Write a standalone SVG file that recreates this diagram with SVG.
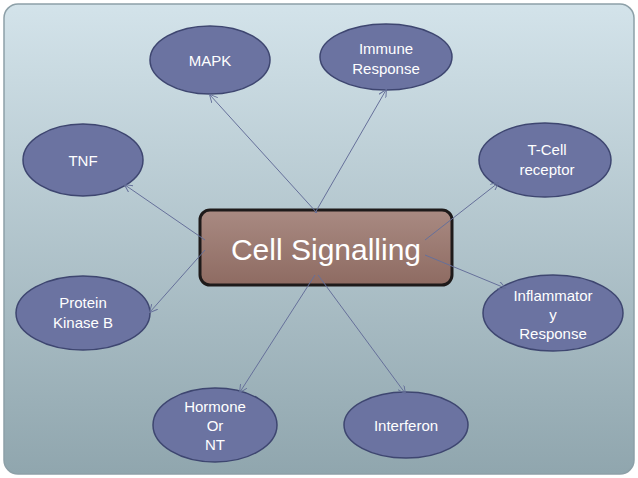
<svg xmlns="http://www.w3.org/2000/svg" width="638" height="478" viewBox="0 0 638 478">
<defs>
<linearGradient id="bg" x1="0" y1="0" x2="0" y2="1"><stop offset="0" stop-color="#d3e3ea"/><stop offset="1" stop-color="#90a6ae"/></linearGradient>
<linearGradient id="bx" x1="0" y1="0" x2="0" y2="1"><stop offset="0" stop-color="#a98a82"/><stop offset="1" stop-color="#8e6b62"/></linearGradient>
<marker id="a" viewBox="0 0 10 10" refX="9" refY="5" markerWidth="8" markerHeight="8" orient="auto"><path d="M0,0 L10,5 L0,10" fill="none" stroke="#66709a" stroke-width="1.2"/></marker>
<style>
.n{fill:#6b73a1;stroke:#3e4670;stroke-width:1.5}
.t{font-family:"Liberation Sans",Arial,sans-serif;font-size:15px;fill:#fff;text-anchor:middle}
.c{stroke:#66709a;stroke-width:1;fill:none;marker-end:url(#a)}
</style>
</defs>
<rect x="0" y="0" width="638" height="478" fill="#fff"/>
<rect x="4" y="4" width="630" height="470" rx="14" fill="url(#bg)" stroke="#8da0a8" stroke-width="1.5"/>
<g id="center"><rect x="200" y="210" width="252" height="75" rx="10" fill="url(#bx)" stroke="#1e1a1a" stroke-width="3"/>
<text x="326" y="260" class="t" style="font-size:30px">Cell Signalling</text></g>
<g id="n1"><ellipse cx="210" cy="60" rx="60" ry="34" class="n"/><text x="210" y="66" class="t">MAPK</text></g>
<g id="n2"><ellipse cx="386" cy="57" rx="66" ry="33" class="n"/><text x="386" y="54" class="t">Immune</text><text x="386" y="74" class="t">Response</text></g>
<g id="n3"><ellipse cx="83" cy="160" rx="60" ry="36" class="n"/><text x="83" y="166" class="t">TNF</text></g>
<g id="n4"><ellipse cx="545" cy="160" rx="66" ry="37" class="n"/><text x="547" y="155" class="t">T-Cell</text><text x="547" y="175" class="t">receptor</text></g>
<g id="n5"><ellipse cx="83" cy="313" rx="67" ry="37" class="n"/><text x="83" y="308" class="t">Protein</text><text x="83" y="328" class="t">Kinase B</text></g>
<g id="n6"><ellipse cx="553" cy="313" rx="70" ry="38" class="n"/><text x="553" y="301" class="t">Inflammator</text><text x="553" y="320" class="t">y</text><text x="553" y="339" class="t">Response</text></g>
<g id="n7"><ellipse cx="215" cy="425" rx="62" ry="37" class="n"/><text x="215" y="412" class="t">Hormone</text><text x="215" y="431" class="t">Or</text><text x="215" y="450" class="t">NT</text></g>
<g id="n8"><ellipse cx="406" cy="425" rx="62" ry="33" class="n"/><text x="406" y="431" class="t">Interferon</text></g>
<g id="connectors">
<line x1="317" y1="213" x2="210" y2="95" class="c"/>
<line x1="315" y1="213" x2="386" y2="90" class="c"/>
<line x1="205" y1="240" x2="125" y2="185" class="c"/>
<line x1="425" y1="240" x2="498" y2="183" class="c"/>
<line x1="205" y1="250" x2="150" y2="312" class="c"/>
<line x1="425" y1="255" x2="505" y2="288" class="c"/>
<line x1="315" y1="275" x2="240" y2="392" class="c"/>
<line x1="318" y1="275" x2="405" y2="393" class="c"/>
</g>
</svg>
